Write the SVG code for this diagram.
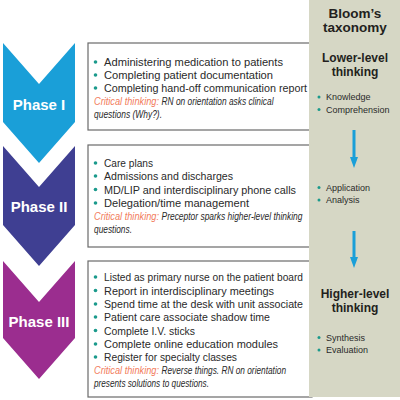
<svg xmlns="http://www.w3.org/2000/svg" width="400" height="400" viewBox="0 0 400 400">
<style>
.ph{font-family:"Liberation Sans",Arial,sans-serif;font-weight:bold;font-size:15px;fill:#fff;text-anchor:middle}
.box{fill:#fff;stroke:#6a6a6a;stroke-width:1.2}
.t{font-family:"Liberation Sans",Arial,sans-serif;font-size:11px;fill:#2a2a2a}
.ct{font-family:"Liberation Sans",Arial,sans-serif;font-size:10.5px;font-style:italic;fill:#2a2a2a}
.ck{fill:#f27c5c}
.b{fill:#1b9a8c}
.hd{font-family:"Liberation Sans",Arial,sans-serif;font-weight:bold;fill:#231f20;text-anchor:middle}
.s{font-family:"Liberation Sans",Arial,sans-serif;font-size:9px;fill:#2a2a2a}
.ar{stroke:#1a9fd8;stroke-width:3;fill:none}
</style>
<defs>
<marker id="ah" markerWidth="11" markerHeight="8" refX="0" refY="4" orient="auto" markerUnits="userSpaceOnUse" viewBox="0 0 11 8">
<path d="M0,0 L11,4 L0,8 Z" fill="#1a9fd8"/>
</marker>
</defs>

<g id="phase1">
<path d="M3,43 L39,84 L75,43 L75,122 L39,163 L3,122 Z" fill="#1a9fd8"/>
<text class="ph" x="39" y="110">Phase I</text>
</g>
<g id="phase2">
<path d="M3,146 L39,187 L75,146 L75,225 L39,266 L3,225 Z" fill="#3f3f92"/>
<text class="ph" x="39" y="212">Phase II</text>
</g>
<g id="phase3">
<path d="M3,261 L39,302 L75,261 L75,338 L39,379 L3,338 Z" fill="#9b2d8f"/>
<text class="ph" x="39" y="327">Phase III</text>
</g>

<g id="box1">
<rect class="box" x="88" y="43" width="224" height="87"/>
<circle class="b" cx="95.5" cy="62" r="1.8"/>
<text class="t" x="104" y="66" textLength="179" lengthAdjust="spacingAndGlyphs">Administering medication to patients</text>
<circle class="b" cx="95.5" cy="75" r="1.8"/>
<text class="t" x="104" y="79" textLength="169" lengthAdjust="spacingAndGlyphs">Completing patient documentation</text>
<circle class="b" cx="95.5" cy="88" r="1.8"/>
<text class="t" x="104" y="92" textLength="203" lengthAdjust="spacingAndGlyphs">Completing hand-off communication report</text>
<text class="ct ck" x="94" y="105" textLength="65" lengthAdjust="spacingAndGlyphs">Critical thinking:</text>
<text class="ct" x="161.5" y="105" textLength="112" lengthAdjust="spacingAndGlyphs">RN on orientation asks clinical</text>
<text class="ct" x="94" y="117.5" textLength="68" lengthAdjust="spacingAndGlyphs">questions (Why?).</text>
</g>

<g id="box2">
<rect class="box" x="88" y="145" width="224" height="102"/>
<circle class="b" cx="95.5" cy="163" r="1.8"/>
<text class="t" x="104" y="167" textLength="49" lengthAdjust="spacingAndGlyphs">Care plans</text>
<circle class="b" cx="95.5" cy="176" r="1.8"/>
<text class="t" x="104" y="180" textLength="129" lengthAdjust="spacingAndGlyphs">Admissions and discharges</text>
<circle class="b" cx="95.5" cy="189.5" r="1.8"/>
<text class="t" x="104" y="193.5" textLength="192" lengthAdjust="spacingAndGlyphs">MD/LIP and interdisciplinary phone calls</text>
<circle class="b" cx="95.5" cy="203" r="1.8"/>
<text class="t" x="104" y="207" textLength="145" lengthAdjust="spacingAndGlyphs">Delegation/time management</text>
<text class="ct ck" x="94" y="220" textLength="65" lengthAdjust="spacingAndGlyphs">Critical thinking:</text>
<text class="ct" x="161.5" y="220" textLength="141" lengthAdjust="spacingAndGlyphs">Preceptor sparks higher-level thinking</text>
<text class="ct" x="94" y="232.5" textLength="38" lengthAdjust="spacingAndGlyphs">questions.</text>
</g>

<g id="box3">
<rect class="box" x="88" y="261" width="224" height="136"/>
<circle class="b" cx="95.5" cy="277" r="1.8"/>
<text class="t" x="104" y="281" textLength="199" lengthAdjust="spacingAndGlyphs">Listed as primary nurse on the patient board</text>
<circle class="b" cx="95.5" cy="290.5" r="1.8"/>
<text class="t" x="104" y="294.5" textLength="170" lengthAdjust="spacingAndGlyphs">Report in interdisciplinary meetings</text>
<circle class="b" cx="95.5" cy="304" r="1.8"/>
<text class="t" x="104" y="308" textLength="199" lengthAdjust="spacingAndGlyphs">Spend time at the desk with unit associate</text>
<circle class="b" cx="95.5" cy="317" r="1.8"/>
<text class="t" x="104" y="321" textLength="166" lengthAdjust="spacingAndGlyphs">Patient care associate shadow time</text>
<circle class="b" cx="95.5" cy="330.5" r="1.8"/>
<text class="t" x="104" y="334.5" textLength="91" lengthAdjust="spacingAndGlyphs">Complete I.V. sticks</text>
<circle class="b" cx="95.5" cy="344" r="1.8"/>
<text class="t" x="104" y="348" textLength="174" lengthAdjust="spacingAndGlyphs">Complete online education modules</text>
<circle class="b" cx="95.5" cy="357" r="1.8"/>
<text class="t" x="104" y="361" textLength="133" lengthAdjust="spacingAndGlyphs">Register for specialty classes</text>
<text class="ct ck" x="94" y="373.5" textLength="65" lengthAdjust="spacingAndGlyphs">Critical thinking:</text>
<text class="ct" x="161.5" y="373.5" textLength="124.5" lengthAdjust="spacingAndGlyphs">Reverse things. RN on orientation</text>
<text class="ct" x="94" y="386.5" textLength="115" lengthAdjust="spacingAndGlyphs">presents solutions to questions.</text>
</g>

<g id="bloom">
<rect x="309" y="0" width="91" height="397" fill="#d6d7c5"/>
<text class="hd" x="355" y="18" font-size="13.5">Bloom’s</text>
<text class="hd" x="355" y="32" font-size="13.5">taxonomy</text>
</g>
<g id="lower">
<text class="hd" x="355" y="62" font-size="12">Lower-level</text>
<text class="hd" x="355" y="76" font-size="12">thinking</text>
<circle class="b" cx="319" cy="97" r="1.5"/>
<text class="s" x="326" y="100">Knowledge</text>
<circle class="b" cx="319" cy="109.5" r="1.5"/>
<text class="s" x="326" y="112.5">Comprehension</text>
</g>
<g id="middle">
<circle class="b" cx="319" cy="187.5" r="1.5"/>
<text class="s" x="326" y="190.5">Application</text>
<circle class="b" cx="319" cy="200" r="1.5"/>
<text class="s" x="326" y="203">Analysis</text>
</g>
<g id="higher">
<text class="hd" x="355" y="298" font-size="12">Higher-level</text>
<text class="hd" x="355" y="312" font-size="12">thinking</text>
<circle class="b" cx="319" cy="337.5" r="1.5"/>
<text class="s" x="326" y="340.5">Synthesis</text>
<circle class="b" cx="319" cy="350" r="1.5"/>
<text class="s" x="326" y="353">Evaluation</text>
</g>

<g id="connectors">
<line class="ar" x1="354" y1="130" x2="354" y2="157" marker-end="url(#ah)"/>
<line class="ar" x1="354" y1="231" x2="354" y2="257" marker-end="url(#ah)"/>
</g>
</svg>
